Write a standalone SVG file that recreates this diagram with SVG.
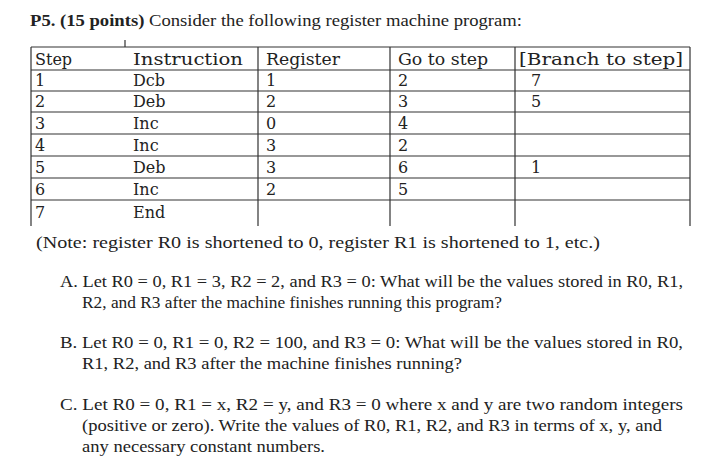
<svg xmlns="http://www.w3.org/2000/svg" width="718" height="472" viewBox="0 0 718 472">
<style>
.t{font-family:"DejaVu Serif",serif;font-size:16px;fill:#222}
.b{font-family:"Liberation Serif",serif;font-size:17.5px;fill:#222}
.l{stroke:#333;stroke-width:1.2;fill:none}
</style>
<rect width="718" height="472" fill="#fff"/>
<text x="30" y="26" class="b" textLength="492" lengthAdjust="spacingAndGlyphs"><tspan font-weight="bold">P5. (15 points)</tspan> Consider the following register machine program:</text>
<g id="table">
<path class="l" d="M31 47H690M31 70H690M31 91H690M31 112H690M31 134H690M31 156H690M31 178H690M31 200H690M31 47V226M258 47V226M390 47V226M515 47V226M690 47V226M125 40V47"/>
<g class="t">
<text x="35" y="65">Step</text><text x="133" y="65" textLength="110" lengthAdjust="spacingAndGlyphs">Instruction</text><text x="266" y="65" textLength="74" lengthAdjust="spacingAndGlyphs">Register</text><text x="398" y="65" textLength="90" lengthAdjust="spacingAndGlyphs">Go to step</text><text x="519" y="65" textLength="164" lengthAdjust="spacingAndGlyphs">[Branch to step]</text>
<text x="35" y="86">1</text><text x="133" y="86">Dcb</text><text x="266" y="86">1</text><text x="398" y="86">2</text><text x="531" y="86">7</text>
<text x="35" y="107">2</text><text x="133" y="107">Deb</text><text x="266" y="107">2</text><text x="398" y="107">3</text><text x="531" y="107">5</text>
<text x="35" y="129">3</text><text x="133" y="129">Inc</text><text x="266" y="129">0</text><text x="398" y="129">4</text>
<text x="35" y="151">4</text><text x="133" y="151">Inc</text><text x="266" y="151">3</text><text x="398" y="151">2</text>
<text x="35" y="173">5</text><text x="133" y="173">Deb</text><text x="266" y="173">3</text><text x="398" y="173">6</text><text x="531" y="173">1</text>
<text x="35" y="195">6</text><text x="133" y="195">Inc</text><text x="266" y="195">2</text><text x="398" y="195">5</text>
<text x="35" y="218">7</text><text x="133" y="218">End</text>
</g>
</g>
<g class="b">
<text x="36" y="248" textLength="564" lengthAdjust="spacingAndGlyphs">(Note: register R0 is shortened to 0, register R1 is shortened to 1, etc.)</text>
<text x="60" y="287" textLength="623" lengthAdjust="spacingAndGlyphs">A.  Let R0 = 0, R1 = 3, R2 = 2, and R3 = 0: What will be the values stored in R0, R1,</text>
<text x="82" y="308" textLength="420" lengthAdjust="spacingAndGlyphs">R2, and R3 after the machine finishes running this program?</text>
<text x="60" y="348" textLength="623" lengthAdjust="spacingAndGlyphs">B.  Let R0 = 0, R1 = 0, R2 = 100, and R3 = 0: What will be the values stored in R0,</text>
<text x="82" y="369" textLength="380" lengthAdjust="spacingAndGlyphs">R1, R2, and R3 after the machine finishes running?</text>
<text x="60" y="410" textLength="623" lengthAdjust="spacingAndGlyphs">C.  Let R0 = 0, R1 = x, R2 = y, and R3 = 0 where x and y are two random integers</text>
<text x="82" y="431" textLength="580" lengthAdjust="spacingAndGlyphs">(positive or zero). Write the values of R0, R1, R2, and R3 in terms of x, y, and</text>
<text x="82" y="452" textLength="243" lengthAdjust="spacingAndGlyphs">any necessary constant numbers.</text>
</g>
</svg>
